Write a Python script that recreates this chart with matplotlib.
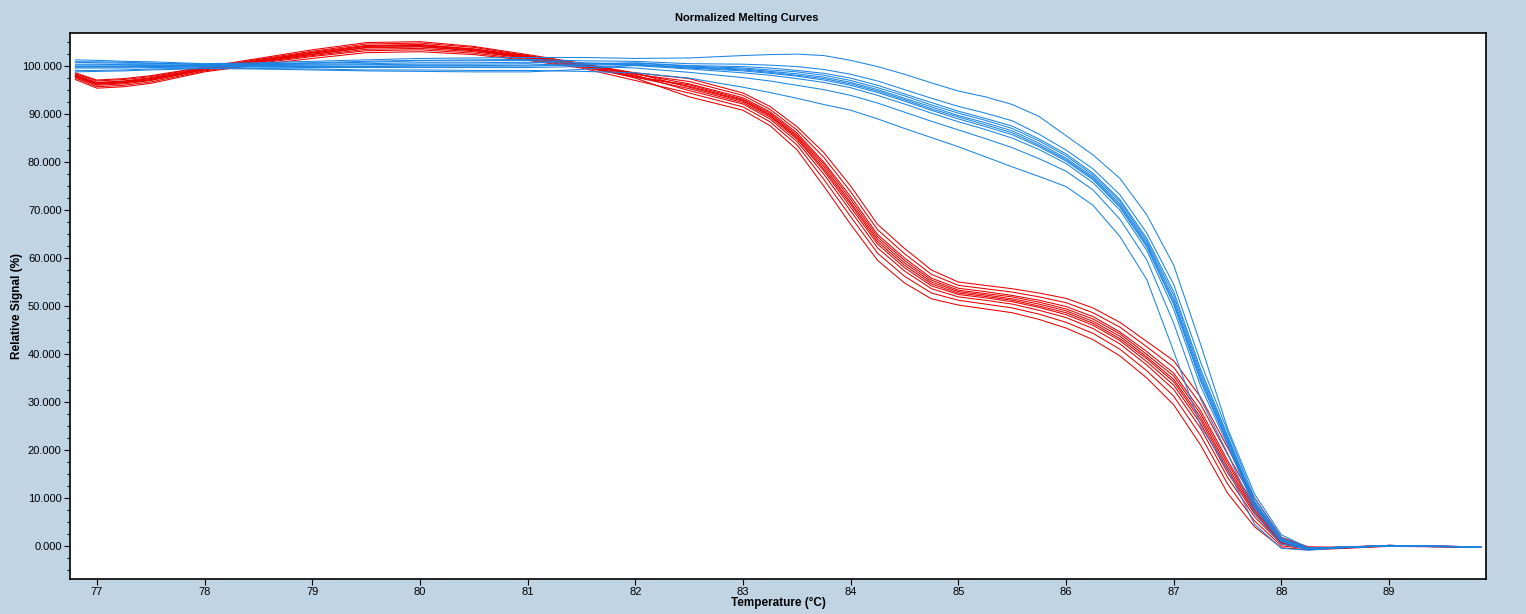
import matplotlib
matplotlib.use('Agg')
import matplotlib.pyplot as plt
from matplotlib.ticker import MultipleLocator, FormatStrFormatter

plt.rcParams['font.family'] = ['Liberation Sans', 'DejaVu Sans']

# temperatures (°C) at which the curves were read
temps = [76.8, 77.0, 77.25, 77.5, 78.0, 78.5, 79.0, 79.5, 80.0, 80.5, 81.0, 81.5,
         82.0, 82.5, 83.0, 83.25, 83.5, 83.75, 84.0, 84.25, 84.5, 84.75,
         85.0, 85.25, 85.5, 85.75, 86.0, 86.25, 86.5, 86.75, 87.0, 87.25, 87.5, 87.75,
         88.0, 88.25, 88.5, 89.0, 89.85]

# red group (relative signal, %)
red_curves = [
    [98.0, 96.4, 96.7, 97.4, 99.4, 101.1, 102.7, 104.1, 104.3, 103.4, 101.9, 100.2,
     97.5, 93.6, 90.8, 87.6, 82.6, 75.0, 67.0, 59.5, 54.8, 51.5,
     50.2, 49.4, 48.6, 47.2, 45.4, 43.0, 39.6, 35.0, 29.4, 21.0, 11.0, 4.0,
     -0.4, -0.8, -0.6, -0.1, -0.3],
    [97.2, 95.4, 95.7, 96.4, 98.8, 100.3, 101.6, 102.8, 103.0, 102.4, 101.2, 99.6,
     97.0, 94.4, 91.5, 88.4, 83.6, 76.4, 68.6, 61.0, 56.2, 52.7,
     51.2, 50.4, 49.6, 48.3, 46.6, 44.3, 41.0, 36.5, 31.2, 23.0, 12.9, 5.2,
     0.0, -0.6, -0.5, 0.0, -0.2],
    [98.4, 96.9, 97.2, 97.8, 99.7, 101.4, 103.1, 104.6, 104.8, 103.9, 102.2, 100.5,
     98.1, 94.9, 92.1, 89.0, 84.3, 77.5, 69.8, 62.1, 57.3, 53.6,
     51.9, 51.2, 50.4, 49.1, 47.6, 45.3, 42.1, 37.7, 32.6, 24.5, 14.3, 6.1,
     0.4, -0.5, -0.4, 0.1, -0.3],
    [97.7, 96.0, 96.3, 97.0, 99.2, 100.8, 102.2, 103.5, 103.7, 103.0, 101.6, 100.0,
     97.7, 95.3, 92.4, 89.4, 84.8, 78.2, 70.6, 62.9, 58.0, 54.2,
     52.4, 51.7, 50.9, 49.7, 48.2, 46.0, 42.8, 38.4, 33.5, 25.5, 15.3, 6.7,
     0.6, -0.7, -0.5, 0.0, -0.2],
    [98.6, 97.1, 97.4, 98.0, 99.8, 101.6, 103.4, 104.9, 105.1, 104.1, 102.4, 100.6,
     98.5, 95.6, 92.7, 89.7, 85.1, 78.6, 71.2, 63.4, 58.5, 54.6,
     52.7, 52.0, 51.2, 50.0, 48.6, 46.4, 43.2, 39.0, 34.2, 26.2, 15.9, 7.1,
     0.7, -0.4, -0.3, 0.1, -0.2],
    [97.8, 96.2, 96.5, 97.1, 99.3, 100.9, 102.4, 103.8, 104.0, 103.2, 101.7, 100.1,
     97.9, 95.8, 92.9, 89.9, 85.4, 79.1, 71.6, 63.9, 59.0, 55.0,
     53.0, 52.3, 51.5, 50.4, 49.0, 46.8, 43.7, 39.4, 34.7, 26.8, 16.5, 7.5,
     0.9, -0.6, -0.4, 0.0, -0.3],
    [97.5, 95.7, 96.0, 96.7, 99.0, 100.6, 102.0, 103.2, 103.4, 102.7, 101.4, 99.8,
     97.7, 96.1, 93.1, 90.2, 85.7, 79.6, 72.2, 64.4, 59.5, 55.4,
     53.3, 52.6, 51.9, 50.8, 49.4, 47.3, 44.2, 39.9, 35.4, 27.5, 17.2, 7.9,
     1.0, -0.5, -0.5, 0.1, -0.2],
    [98.2, 96.6, 96.9, 97.6, 99.5, 101.2, 102.9, 104.3, 104.5, 103.6, 102.1, 100.3,
     98.4, 96.3, 93.4, 90.5, 86.1, 80.0, 72.8, 64.9, 60.0, 55.8,
     53.7, 53.0, 52.2, 51.2, 49.9, 47.8, 44.6, 40.5, 36.0, 28.2, 17.8, 8.3,
     1.2, -0.4, -0.4, 0.0, -0.3],
    [97.9, 96.3, 96.6, 97.2, 99.3, 101.0, 102.5, 103.9, 104.1, 103.3, 101.8, 100.1,
     98.3, 96.8, 93.9, 91.0, 86.7, 81.0, 73.8, 65.9, 60.9, 56.6,
     54.3, 53.6, 52.9, 51.9, 50.7, 48.6, 45.6, 41.5, 37.2, 29.5, 19.1, 9.1,
     1.5, -0.3, -0.3, 0.1, -0.2],
    [98.1, 96.5, 96.8, 97.4, 99.5, 101.2, 102.8, 104.2, 104.4, 103.5, 102.0, 100.3,
     98.6, 97.4, 94.4, 91.6, 87.4, 82.0, 75.0, 67.0, 62.0, 57.5,
     55.0, 54.3, 53.6, 52.7, 51.6, 49.6, 46.6, 42.6, 38.6, 31.0, 20.5, 10.0,
     1.8, -0.2, -0.3, 0.0, -0.2],
]

# blue group (relative signal, %)
blue_curves = [
    [99.1, 99.1, 99.2, 99.4, 99.6, 99.5, 99.4, 99.2, 99.2, 99.1, 99.1, 98.9,
     98.6, 97.5, 95.6, 94.5, 93.3, 92.0, 90.8, 89.0, 87.0, 85.1,
     83.2, 81.1, 79.0, 77.0, 74.9, 71.0, 64.5, 55.5, 40.5, 25.0, 16.0, 4.5,
     -0.5, -0.9, -0.5, 0.0, -0.2],
    [100.2, 100.2, 100.2, 100.1, 100.1, 100.1, 100.2, 100.3, 100.4, 100.4, 100.5, 100.0,
     99.6, 98.7, 97.6, 96.9, 96.0, 95.1, 93.9, 92.3, 90.4, 88.5,
     86.7, 84.9, 83.0, 80.7, 78.1, 74.2, 68.1, 59.6, 46.4, 30.6, 19.3, 6.8,
     0.4, -0.7, -0.4, 0.0, -0.2],
    [99.6, 99.6, 99.6, 99.7, 99.8, 99.8, 99.7, 99.7, 99.7, 99.7, 99.7, 99.9,
     100.1, 99.4, 98.6, 98.1, 97.4, 96.6, 95.5, 93.9, 92.1, 90.2,
     88.4, 86.8, 85.0, 82.6, 79.7, 75.7, 70.0, 61.6, 49.3, 33.3, 21.0, 7.9,
     0.9, -0.8, -0.3, 0.1, -0.2],
    [100.8, 100.7, 100.6, 100.6, 100.3, 100.4, 100.6, 100.8, 101.1, 101.1, 101.2, 100.7,
     100.3, 99.6, 99.0, 98.5, 97.9, 97.1, 96.0, 94.5, 92.7, 90.8,
     89.0, 87.4, 85.7, 83.2, 80.2, 76.3, 70.6, 62.3, 50.3, 34.3, 21.5, 8.3,
     1.0, -0.6, -0.4, 0.0, -0.3],
    [99.9, 99.9, 99.9, 100.0, 100.0, 100.0, 100.0, 100.0, 100.1, 100.1, 100.2, 100.2,
     100.4, 99.7, 99.2, 98.7, 98.1, 97.4, 96.3, 94.8, 93.0, 91.1,
     89.4, 87.8, 86.1, 83.5, 80.5, 76.6, 70.9, 62.7, 50.8, 34.8, 21.8, 8.5,
     1.1, -0.7, -0.3, 0.0, -0.2],
    [98.8, 98.9, 99.0, 99.2, 99.5, 99.4, 99.2, 99.0, 98.9, 98.8, 98.8, 99.3,
     100.2, 99.8, 99.4, 98.9, 98.4, 97.7, 96.6, 95.1, 93.3, 91.5,
     89.7, 88.2, 86.5, 83.9, 80.8, 76.9, 71.3, 63.1, 51.4, 35.4, 22.2, 8.7,
     1.2, -0.5, -0.4, 0.1, -0.2],
    [100.4, 100.4, 100.3, 100.3, 100.2, 100.3, 100.4, 100.5, 100.7, 100.7, 100.8, 100.6,
     100.6, 100.0, 99.6, 99.2, 98.8, 98.1, 97.0, 95.5, 93.8, 91.9,
     90.2, 88.7, 87.0, 84.4, 81.3, 77.3, 71.8, 63.6, 52.2, 36.1, 22.6, 9.0,
     1.3, -0.8, -0.3, 0.0, -0.2],
    [99.8, 99.8, 99.8, 99.9, 99.9, 99.9, 99.9, 99.9, 100.0, 100.0, 100.0, 100.3,
     100.7, 100.1, 99.9, 99.6, 99.1, 98.5, 97.5, 96.0, 94.2, 92.4,
     90.6, 89.1, 87.5, 84.8, 81.7, 77.7, 72.2, 64.1, 53.0, 36.8, 23.0, 9.3,
     1.4, -0.6, -0.3, 0.0, -0.3],
    [100.9, 100.9, 100.8, 100.6, 100.4, 100.5, 100.7, 101.0, 101.2, 101.3, 101.4, 101.1,
     101.0, 100.5, 100.4, 100.2, 99.9, 99.3, 98.3, 96.9, 95.1, 93.3,
     91.6, 90.2, 88.6, 85.8, 82.5, 78.6, 73.2, 65.2, 54.5, 38.3, 23.9, 9.9,
     1.7, -0.5, -0.4, 0.1, -0.2],
    [101.3, 101.2, 101.0, 100.9, 100.5, 100.7, 101.0, 101.3, 101.6, 101.7, 101.8, 101.8,
     101.6, 101.7, 102.2, 102.4, 102.5, 102.2, 101.2, 99.9, 98.3, 96.5,
     94.8, 93.6, 92.0, 89.5, 85.5, 81.5, 76.6, 69.0, 58.5, 42.0, 24.5, 10.8,
     2.3, -0.4, -0.3, 0.0, -0.2],
]

fig = plt.figure(figsize=(15.26, 6.14), dpi=100, facecolor='#C1D4E4')
ax = fig.add_axes([70 / 1526, 1 - 579 / 614, 1416 / 1526, 546 / 614])
ax.set_facecolor('white')

for c in red_curves:
    ax.plot(temps, c, color='#E80000', lw=0.75)
for c in blue_curves:
    ax.plot(temps, c, color='#1A84E4', lw=0.75)

ax.set_xlim(76.75, 89.9)
ax.set_ylim(-6.9, 106.9)
ax.xaxis.set_major_locator(MultipleLocator(1))
ax.yaxis.set_major_locator(MultipleLocator(10))
ax.yaxis.set_minor_locator(MultipleLocator(2.5))
ax.yaxis.set_major_formatter(FormatStrFormatter('%.3f'))
ax.tick_params(axis='both', which='major', direction='out', length=4,
               width=0.8, labelsize=8, colors='black', pad=2)
ax.tick_params(axis='y', which='minor', direction='out', length=2.5, width=0.8)
for s in ax.spines.values():
    s.set_linewidth(1.2)
    s.set_color('black')

fig.text(747 / 1526, 1 - 18 / 614, 'Normalized Melting Curves', ha='center',
         va='center', fontsize=8, fontweight='bold')
fig.text(778 / 1526, 1 - 603 / 614, 'Temperature (°C)', ha='center',
         va='center', fontsize=8.5, fontweight='bold')
fig.text(17 / 1526, 1 - 306 / 614, 'Relative Signal (%)', ha='center',
         va='center', rotation=90, fontsize=8.5, fontweight='bold')

fig.savefig('out.png', dpi=100, facecolor=fig.get_facecolor())
